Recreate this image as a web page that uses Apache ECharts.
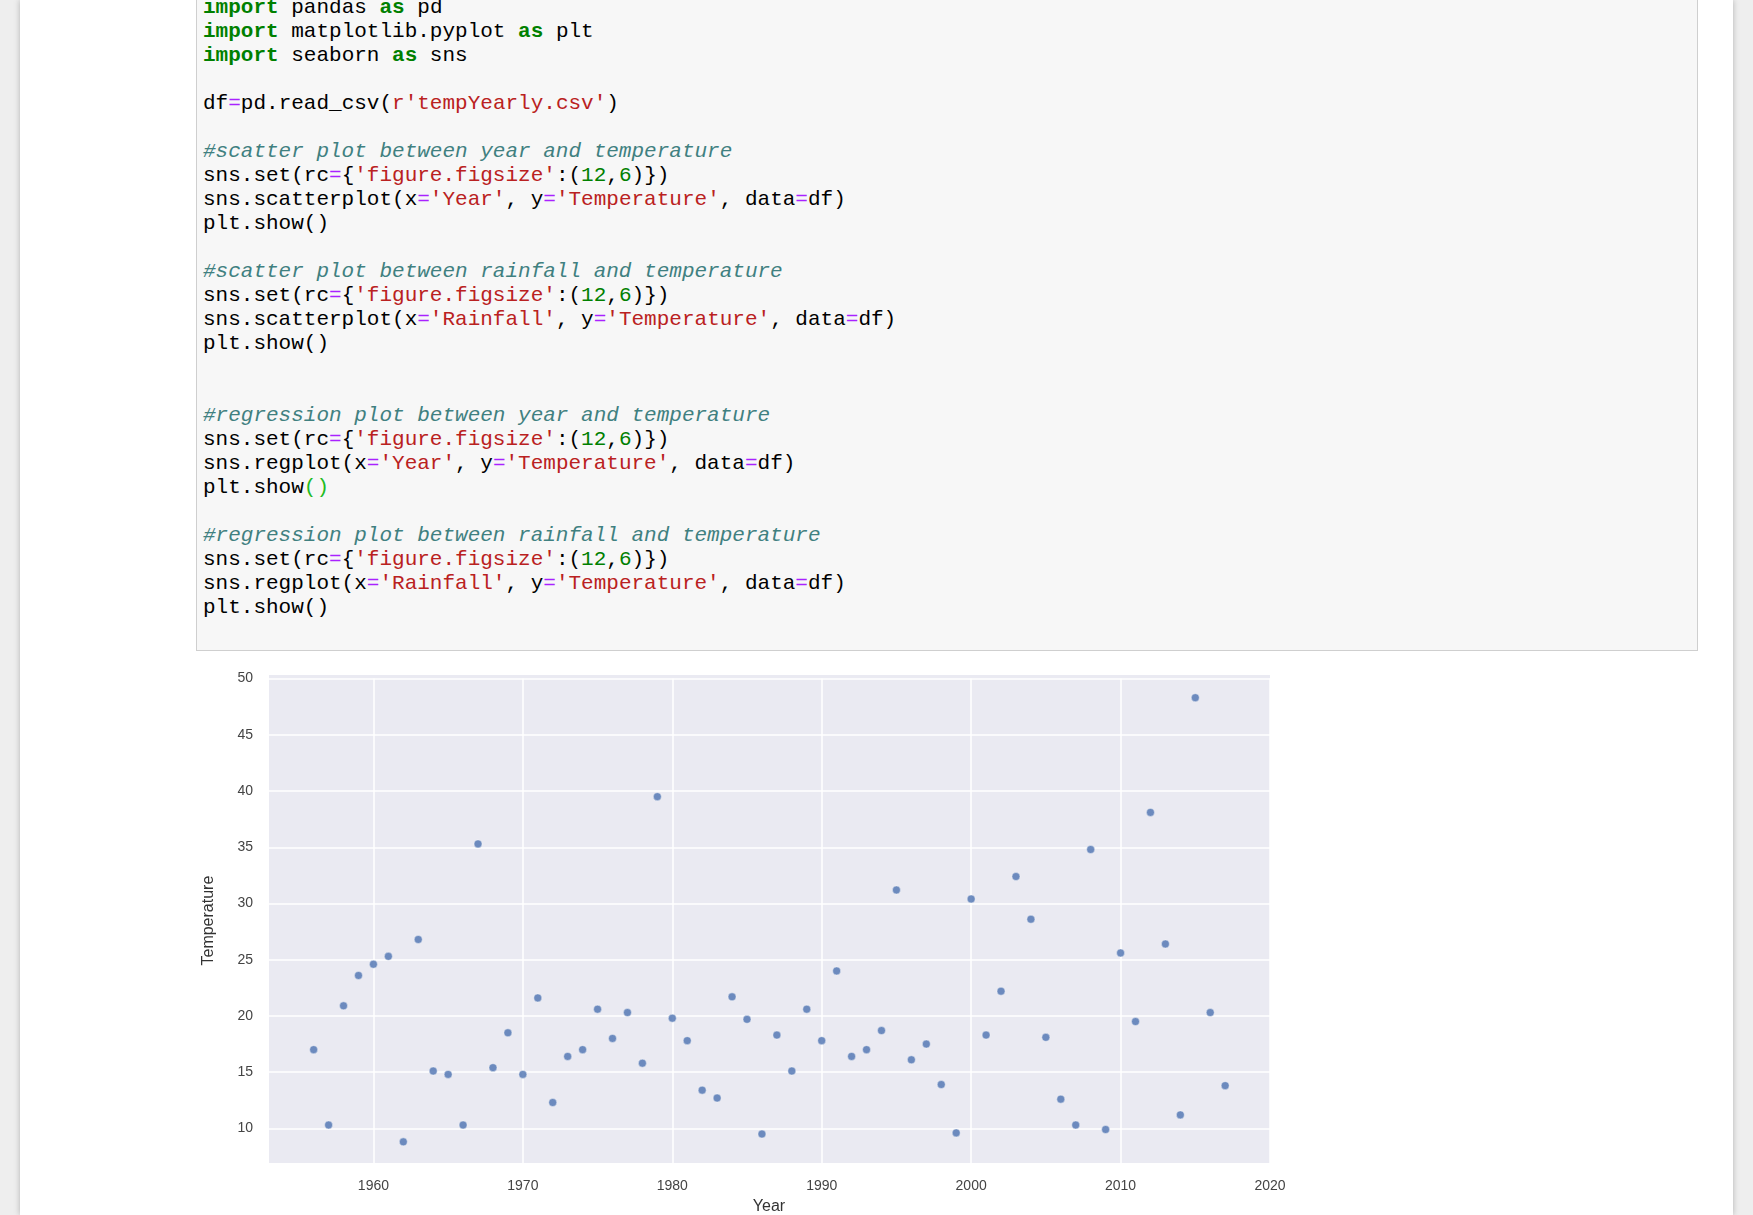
<!DOCTYPE html>
<html><head><meta charset="utf-8">
<script src="https://cdn.jsdelivr.net/npm/echarts@6/dist/echarts.min.js"></script>
<style>
body{margin:0;width:1753px;height:1215px;background:#eeeeee;overflow:hidden;position:relative;font-family:"Liberation Sans",Arial,sans-serif}
#page{position:absolute;left:20px;top:0;width:1713px;height:1215px;background:#fff;box-shadow:0 0 6px rgba(0,0,0,0.25)}
#cell{position:absolute;left:196px;top:-2px;width:1500px;height:652px;background:#f7f7f7;border:1px solid #cfcfcf;border-top:none;overflow:hidden}
pre{position:absolute;left:6px;top:-2px;margin:0;font-family:"Liberation Mono","DejaVu Sans Mono",monospace;font-size:21px;line-height:24px;color:#000}
.k{color:#008000;font-weight:bold}.s{color:#BA2121}.c{color:#408080;font-style:italic}.n{color:#008000}.o{color:#AA22FF}.g{color:#22bb22}
#chart{position:absolute;left:0;top:652px;width:1753px;height:563px}
</style></head><body>
<div id="page"></div>
<div id="cell"><pre><span class="k">import</span> pandas <span class="k">as</span> pd
<span class="k">import</span> matplotlib.pyplot <span class="k">as</span> plt
<span class="k">import</span> seaborn <span class="k">as</span> sns

df<span class="o">=</span>pd.read_csv(<span class="s">r'tempYearly.csv'</span>)

<span class="c">#scatter plot between year and temperature</span>
sns.set(rc<span class="o">=</span>{<span class="s">'figure.figsize'</span>:(<span class="n">12</span>,<span class="n">6</span>)})
sns.scatterplot(x<span class="o">=</span><span class="s">'Year'</span>, y<span class="o">=</span><span class="s">'Temperature'</span>, data<span class="o">=</span>df)
plt.show()

<span class="c">#scatter plot between rainfall and temperature</span>
sns.set(rc<span class="o">=</span>{<span class="s">'figure.figsize'</span>:(<span class="n">12</span>,<span class="n">6</span>)})
sns.scatterplot(x<span class="o">=</span><span class="s">'Rainfall'</span>, y<span class="o">=</span><span class="s">'Temperature'</span>, data<span class="o">=</span>df)
plt.show()


<span class="c">#regression plot between year and temperature</span>
sns.set(rc<span class="o">=</span>{<span class="s">'figure.figsize'</span>:(<span class="n">12</span>,<span class="n">6</span>)})
sns.regplot(x<span class="o">=</span><span class="s">'Year'</span>, y<span class="o">=</span><span class="s">'Temperature'</span>, data<span class="o">=</span>df)
plt.show<span class="g">()</span>

<span class="c">#regression plot between rainfall and temperature</span>
sns.set(rc<span class="o">=</span>{<span class="s">'figure.figsize'</span>:(<span class="n">12</span>,<span class="n">6</span>)})
sns.regplot(x<span class="o">=</span><span class="s">'Rainfall'</span>, y<span class="o">=</span><span class="s">'Temperature'</span>, data<span class="o">=</span>df)
plt.show()</pre></div>
<div id="chart"></div>
<script>
const years = [];
for (let y = 1956; y <= 2017; y++) years.push(y);
const temperature = [17.0,10.3,20.9,23.6,24.6,25.3,8.8,26.8,15.1,14.8,10.3,35.3,15.4,18.5,14.8,21.6,12.3,16.4,17.0,20.6,18.0,20.3,15.8,39.5,19.8,17.8,13.4,12.7,21.7,19.7,9.5,18.3,15.1,20.6,17.8,24.0,16.4,17.0,18.7,31.2,16.1,17.5,13.9,9.6,30.4,18.3,22.2,32.4,28.6,18.1,12.6,10.3,34.8,9.9,25.6,19.5,38.1,26.4,11.2,48.3,20.3,13.8];
const xTicks = [1960,1970,1980,1990,2000,2010,2020];
const yTicks = [10,15,20,25,30,35,40,45,50];

const chart = echarts.init(document.getElementById('chart'));
chart.setOption({
  animation:false,
  graphic:[{type:'rect',z:-10,shape:{x:269,y:23,width:1001,height:488},style:{fill:'#eaeaf2'}}],
  grid:{left:224,top:26.6,width:1046,height:506,outerBoundsMode:'none',containLabel:false},
  xAxis:{type:'value',min:1950,max:2020,interval:10,
    name:'Year',nameLocation:'middle',nameGap:12,nameTextStyle:{fontSize:16,color:'#333',padding:[0,0,0,44]},
    axisLine:{show:false},axisTick:{show:false},
    axisLabel:{fontSize:14,color:'#444',margin:-5,formatter:v=>xTicks.includes(v)?String(v):''},
    splitLine:{lineStyle:{color:'#ffffff',width:1.5}}},
  yAxis:{type:'value',min:5,max:50,interval:5,
    name:'Temperature',nameLocation:'middle',nameGap:-32,nameRotate:90,nameTextStyle:{fontSize:16,color:'#333',padding:[0,0,0,22]},
    axisLine:{show:false},axisTick:{show:false},
    axisLabel:{fontSize:14,color:'#444',margin:-29,formatter:v=>yTicks.includes(v)?String(v):''},
    splitLine:{lineStyle:{color:'#ffffff',width:1.5}}},
  series:[{type:'scatter',z:5,symbolSize:8,itemStyle:{color:'#4c72b0',borderColor:'#fff',borderWidth:0.5},
    data:years.map((y,i)=>[y,temperature[i]])}]
});
</script>
</body></html>
